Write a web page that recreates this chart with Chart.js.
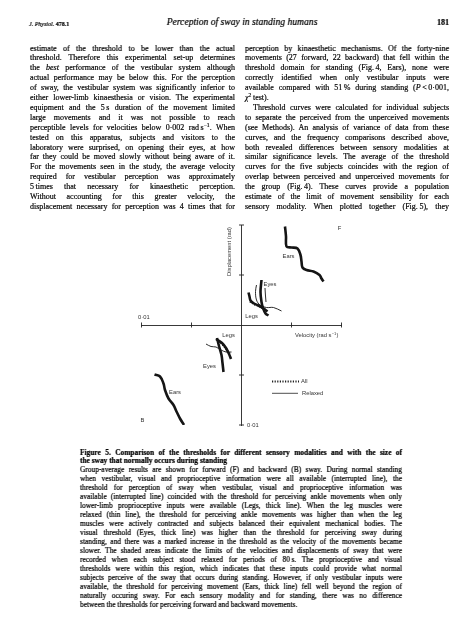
<!DOCTYPE html>
<html>
<head>
<meta charset="utf-8">
<script src="https://cdn.jsdelivr.net/npm/chart.js@4.4.1/dist/chart.umd.min.js"></script>
<style>
  html, body { margin: 0; padding: 0; background: #fff; }
  #page {
    position: relative; width: 474px; height: 641px; overflow: hidden;
    background: #fff; color: #000;
    font-family: "Liberation Serif", "Times New Roman", serif;
    filter: grayscale(1);
  }
  .ln { position: absolute; white-space: nowrap; line-height: 10px; -webkit-text-stroke: 0.18px #000; }
  .body { font-size: 8px; }
  .cap { font-size: 7.4px; line-height: 9px; }
  .bold { font-weight: bold; }
  sup { font-size: 70%; line-height: 0; vertical-align: 3px; }
  #chartBox { position: absolute; left: 0; top: 210px; width: 474px; height: 225px; }
  .legend { position: absolute; font-family: "Liberation Sans", Arial, sans-serif; font-size: 5.8px; color: #333; }
</style>
</head>
<body>
<div id="page">
  <div class="ln" style="left:29px;top:19px;font-size:6px;font-style:italic;">J. Physiol. <b style="font-style:normal">478.1</b></div>
  <div class="ln" style="left:0;width:484px;text-align:center;top:17px;font-size:9.6px;font-style:italic;">Perception of sway in standing humans</div>
  <div class="ln" style="left:437px;top:18px;font-size:8px;font-weight:bold;">181</div>

  <div id="chartBox"><canvas id="fig5"></canvas></div>

  <svg class="legend" style="left:271px;top:378px;" width="30" height="20">
    <line x1="1" y1="3.5" x2="28" y2="3.5" stroke="#222" stroke-width="2" stroke-dasharray="1.2 1.4"/>
    <line x1="1" y1="15.3" x2="27" y2="15.3" stroke="#222" stroke-width="0.8"/>
  </svg>
  <div class="legend" style="left:301px;top:378px;">All</div>
  <div class="legend" style="left:302px;top:390px;">Relaxed</div>
</div>

<script>
// ---- figure data (velocity / displacement, in axis decades from the origin) ----
const velocityTicks = [-2, -1, 1, 2];
const displacementTicks = [-2, -1, 1, 2];

const earsForward = [
  { x: 0.87, y: 1.97 }, { x: 0.89, y: 1.77 }, { x: 0.9, y: 1.57 }, { x: 1.0, y: 1.55 },
  { x: 1.12, y: 1.53 }, { x: 1.18, y: 1.4 }, { x: 1.2, y: 1.27 }, { x: 1.22, y: 1.15 },
  { x: 1.3, y: 1.1 }, { x: 1.44, y: 1.07 }, { x: 1.56, y: 1.0 }, { x: 1.6, y: 0.93 }, { x: 1.64, y: 0.87 }
];
const eyesForward = [
  { x: 0.4, y: 0.9 }, { x: 0.38, y: 0.66 }, { x: 0.4, y: 0.46 }, { x: 0.43, y: 0.34 },
  { x: 0.48, y: 0.23 }, { x: 0.54, y: 0.19 }
];
const eyesRelaxedForward = [
  { x: 0.47, y: 0.74 }, { x: 0.48, y: 0.58 }, { x: 0.49, y: 0.46 }
];
const legsForward = [
  { x: 0.14, y: 0.65 }, { x: 0.16, y: 0.57 }, { x: 0.18, y: 0.49 }, { x: 0.25, y: 0.43 },
  { x: 0.34, y: 0.39 }, { x: 0.44, y: 0.33 }, { x: 0.52, y: 0.27 }
];
const legsRelaxedForward = [
  { x: 0.3, y: 0.8 }, { x: 0.28, y: 0.67 }, { x: 0.3, y: 0.5 }, { x: 0.37, y: 0.4 },
  { x: 0.5, y: 0.35 }, { x: 0.64, y: 0.35 }, { x: 0.8, y: 0.28 }
];
const allForward = [
  { x: 0.17, y: 0.47 }, { x: 0.27, y: 0.41 }, { x: 0.37, y: 0.37 }, { x: 0.47, y: 0.31 }
];

const earsBackward = [
  { x: -1.74, y: -0.99 }, { x: -1.63, y: -1.03 }, { x: -1.56, y: -1.17 }, { x: -1.53, y: -1.3 },
  { x: -1.46, y: -1.47 }, { x: -1.36, y: -1.6 }, { x: -1.3, y: -1.73 }, { x: -1.23, y: -1.87 },
  { x: -1.15, y: -2.0 }
];
const eyesBackward = [
  { x: -0.49, y: -0.26 }, { x: -0.45, y: -0.42 }, { x: -0.4, y: -0.6 }, { x: -0.38, y: -0.76 },
  { x: -0.36, y: -0.94 }
];
const legsBackward = [
  { x: -0.51, y: -0.28 }, { x: -0.39, y: -0.36 }, { x: -0.31, y: -0.46 }, { x: -0.25, y: -0.58 },
  { x: -0.21, y: -0.68 }
];
const legsRelaxedBackward = [
  { x: -0.71, y: -0.38 }, { x: -0.61, y: -0.43 }, { x: -0.51, y: -0.44 }, { x: -0.41, y: -0.5 },
  { x: -0.31, y: -0.54 }, { x: -0.2, y: -0.54 }
];
const allBackward = [
  { x: -0.45, y: -0.32 }, { x: -0.37, y: -0.4 }, { x: -0.29, y: -0.5 }, { x: -0.23, y: -0.6 }
];

// labels written on the figure, placed in axis units
const figureText = [
  { text: "Ears", x: 0.94, y: 1.37 },
  { text: "Eyes", x: 0.57, y: 0.81 },
  { text: "Legs", x: 0.2, y: 0.17 },
  { text: "Legs", x: -0.26, y: -0.2 },
  { text: "Eyes", x: -0.64, y: -0.83 },
  { text: "Ears", x: -1.33, y: -1.35 },
  { text: "F", x: 1.96, y: 1.93 },
  { text: "B", x: -1.98, y: -1.9 }
];

// ---- page text, one entry per printed line ----
const leftLines = [
  "estimate of the threshold to be lower than the actual",
  "threshold. Therefore this experimental set-up determines",
  "the <i>best</i> performance of the vestibular system although",
  "actual performance may be below this. For the perception",
  "of sway, the vestibular system was significantly inferior to",
  "either lower-limb kinaesthesia or vision. The experimental",
  "equipment and the 5\u2009s duration of the movement limited",
  "large movements and it was not possible to reach",
  "perceptible levels for velocities below 0\u00b7002 rad\u2009s<sup>\u22121</sup>. When",
  "tested on this apparatus, subjects and visitors to the",
  "laboratory were surprised, on opening their eyes, at how",
  "far they could be moved slowly without being aware of it.",
  "For the movements seen in the study, the average velocity",
  "required for vestibular perception was approximately",
  "5\u2009times that necessary for kinaesthetic perception.",
  "Without accounting for this greater velocity, the",
  "displacement necessary for perception was 4 times that for"
];
const rightLines = [
  "perception by kinaesthetic mechanisms. Of the forty-nine",
  "movements (27 forward, 22 backward) that fell within the",
  "threshold domain for standing (Fig.\u20094, Ears), none were",
  "correctly identified when only vestibular inputs were",
  "available compared with 51\u2009% during standing (<i>P</i>\u2009&lt;\u20090\u00b7001,",
  "<i>\u03c7</i><sup>2</sup>\u2009test).",
  "Threshold curves were calculated for individual subjects",
  "to separate the perceived from the unperceived movements",
  "(see Methods). An analysis of variance of data from these",
  "curves, and the frequency comparisons described above,",
  "both revealed differences between sensory modalities at",
  "similar significance levels. The average of the threshold",
  "curves for the five subjects coincides with the region of",
  "overlap between perceived and unperceived movements for",
  "the group (Fig.\u20094). These curves provide a population",
  "estimate of the limit of movement sensibility for each",
  "sensory modality. When plotted together (Fig.\u20095), they"
];
const captionLines = [
  "Figure 5. Comparison of the thresholds for different sensory modalities and with the size of",
  "the sway that normally occurs during standing",
  "Group-average results are shown for forward (F) and backward (B) sway. During normal standing",
  "when vestibular, visual and proprioceptive information were all available (interrupted line), the",
  "threshold for perception of sway when vestibular, visual and proprioceptive information was",
  "available (interrupted line) coincided with the threshold for perceiving ankle movements when only",
  "lower-limb proprioceptive inputs were available (Legs, thick line). When the leg muscles were",
  "relaxed (thin line), the threshold for perceiving ankle movements was higher than when the leg",
  "muscles were actively contracted and subjects balanced their equivalent mechanical bodies. The",
  "visual threshold (Eyes, thick line) was higher than the threshold for perceiving sway during",
  "standing, and there was a marked increase in the threshold as the velocity of the movements became",
  "slower. The shaded areas indicate the limits of the velocities and displacements of sway that were",
  "recorded when each subject stood relaxed for periods of 80\u2009s. The proprioceptive and visual",
  "thresholds were within this region, which indicates that these inputs could provide what normal",
  "subjects perceive of the sway that occurs during standing. However, if only vestibular inputs were",
  "available, the threshold for perceiving movement (Ears, thick line) fell well beyond the region of",
  "naturally occuring sway. For each sensory modality and for standing, there was no difference",
  "between the thresholds for perceiving forward and backward movements."
];

const page = document.getElementById("page");

// one line of print; justified lines get their spaces stretched to the column width
function placeLine(html, x, top, width, cls, justify) {
  const d = document.createElement("div");
  d.className = "ln " + cls;
  d.style.left = x + "px";
  d.style.top = top + "px";
  d.innerHTML = html;
  page.appendChild(d);
  if (justify) {
    const natural = d.getBoundingClientRect().width;
    const spaces = (d.textContent.match(/ /g) || []).length;
    if (spaces) d.style.wordSpacing = (width - natural) / spaces + "px";
  }
}

leftLines.forEach((t, i) => placeLine(t, 30, 43.5 + i * 9.9, 205, "body", true));
rightLines.forEach((t, i) => {
  const indent = i === 6 ? 8 : 0;
  placeLine(t, 245 + indent, 43.5 + i * 9.9, 204 - indent, "body", i !== 5);
});
captionLines.forEach((t, i) => {
  const cls = i < 2 ? "cap bold" : "cap";
  placeLine(t, 80, 447.5 + i * 8.95, 322, cls, i !== 1 && i !== captionLines.length - 1);
});

// ---- figure ----
const ink = "#151515";
const thick = 2.6;
const thin = 0.9;

function curve(label, data, width, dash) {
  return {
    label: label,
    data: data,
    showLine: true,
    borderColor: ink,
    borderWidth: width,
    borderDash: dash || [],
    pointRadius: 0,
    tension: 0.35,
    fill: false
  };
}

const sans = '"Liberation Sans", Arial, sans-serif';

const figureMarks = {
  id: "figureMarks",
  afterDraw(chart) {
    const ctx = chart.ctx;
    const xs = chart.scales.x;
    const ys = chart.scales.y;
    const x0 = xs.getPixelForValue(0);
    const y0 = ys.getPixelForValue(0);
    ctx.save();
    ctx.strokeStyle = "#222";
    ctx.lineWidth = 0.9;
    ctx.beginPath();
    velocityTicks.forEach((v) => {
      const px = xs.getPixelForValue(v);
      ctx.moveTo(px, y0 - 2.5);
      ctx.lineTo(px, y0 + 2.5);
    });
    displacementTicks.forEach((v) => {
      const py = ys.getPixelForValue(v);
      ctx.moveTo(x0 - 2.5, py);
      ctx.lineTo(x0 + 2.5, py);
    });
    ctx.stroke();

    ctx.fillStyle = "#333";
    ctx.font = "5.8px " + sans;
    ctx.textBaseline = "middle";
    ctx.textAlign = "center";
    figureText.forEach((l) => {
      ctx.fillText(l.text, xs.getPixelForValue(l.x), ys.getPixelForValue(l.y));
    });

    // end labels of the two log axes
    ctx.textAlign = "left";
    ctx.fillText("0\u00b701", xs.getPixelForValue(velocityTicks[0]) - 3.5, y0 - 8);
    ctx.fillText("0\u00b701", x0 + 5.5, ys.getPixelForValue(displacementTicks[0]) + 0.5);

    // axis titles
    const vx = xs.getPixelForValue(1.07);
    const vy = y0 + 10.5;
    const base = "Velocity (rad s";
    ctx.fillText(base, vx, vy);
    let w = ctx.measureText(base).width;
    ctx.font = "4px " + sans;
    ctx.fillText("\u22121", vx + w + 0.3, vy - 2);
    const w2 = ctx.measureText("\u22121").width;
    ctx.font = "5.8px " + sans;
    ctx.fillText(")", vx + w + w2 + 0.6, vy);

    ctx.translate(x0 - 12.5, ys.getPixelForValue(1.47));
    ctx.rotate(-Math.PI / 2);
    ctx.textAlign = "center";
    ctx.fillText("Displacement (rad)", 0, 0);
    ctx.restore();
  }
};

new Chart(document.getElementById("fig5"), {
  type: "scatter",
  data: {
    datasets: [
      curve("Ears forward", earsForward, thick),
      curve("Eyes forward", eyesForward, thick),
      curve("Eyes relaxed forward", eyesRelaxedForward, thin),
      curve("Legs forward", legsForward, thick),
      curve("Legs relaxed forward", legsRelaxedForward, thin),
      curve("All forward", allForward, 2.2, [1.2, 1.4]),
      curve("Ears backward", earsBackward, thick),
      curve("Eyes backward", eyesBackward, thick),
      curve("Legs backward", legsBackward, thick),
      curve("Legs relaxed backward", legsRelaxedBackward, thin),
      curve("All backward", allBackward, 2.2, [1.2, 1.4])
    ]
  },
  options: {
    responsive: true,
    maintainAspectRatio: false,
    animation: false,
    layout: { padding: { left: 141.5, right: 132.5, top: 15, bottom: 10 } },
    plugins: { legend: { display: false }, tooltip: { enabled: false } },
    scales: {
      x: {
        type: "linear", min: -2, max: 2, position: { y: 0 },
        ticks: { display: false },
        grid: { display: false },
        border: { display: true, color: "#222", width: 0.9 }
      },
      y: {
        type: "linear", min: -2, max: 2, position: { x: 0 },
        ticks: { display: false },
        grid: { display: false },
        border: { display: true, color: "#222", width: 0.9 }
      }
    }
  },
  plugins: [figureMarks]
});
</script>
</body>
</html>
